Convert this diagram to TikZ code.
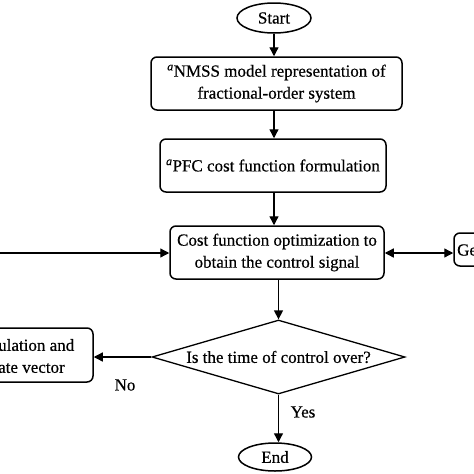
\documentclass[tikz,border=0pt]{standalone}
\usepackage{fontspec}
\setmainfont{Liberation Serif}[FakeBold=0.5]
\usetikzlibrary{arrows.meta,shapes.geometric}
\begin{document}
\begin{tikzpicture}[x=1pt,y=-1pt,
  every node/.style={font=\fontsize{17}{22}\selectfont},
  box/.style={draw,rounded corners=6pt,line width=1.5pt,align=center,inner sep=0pt},
  term/.style={draw,ellipse,line width=1.5pt,inner sep=0pt},
  dec/.style={draw,diamond,aspect=3.42,line width=1.3pt,inner sep=0pt},
  lbl/.style={inner sep=0pt},
  arr/.style={line width=1.3pt,-{Triangle[length=9pt,width=9pt]}},
  darr/.style={line width=1.3pt,{Triangle[length=9pt,width=9pt]}-{Triangle[length=9pt,width=9pt]}}]
\useasboundingbox (0,0) rectangle (474,474);
\node[term,minimum width=74pt,minimum height=30pt] (start) at (274,18) {Start};
\node[box,minimum width=251pt,minimum height=53pt] (b1) at (276.5,83.5)
  {\textsuperscript{\textit{a}}NMSS model representation of\\fractional-order system};
\node[box,minimum width=226pt,minimum height=53pt] (b2) at (273,165.5)
  {\textsuperscript{\textit{a}}PFC cost function formulation};
\node[box,minimum width=214pt,minimum height=53pt] (b3) at (277,252.5)
  {Cost function optimization to\\obtain the control signal};
\node[dec,minimum width=253pt,minimum height=74pt] (d) at (278.5,357) {Is the time of control over?};
\node[box,minimum width=160pt,minimum height=54pt] (lb) at (13,355) {};
\node[lbl,anchor=west,align=left] (lt) at (-2,356) {ulation and\\ate vector};
\node[box,minimum width=40pt,minimum height=33pt] (rb) at (474,249.5) {};
\node[lbl,anchor=west] (rt) at (457,250) {Ge};
\node[term,minimum width=73pt,minimum height=28pt] (end) at (275,457) {End};
\coordinate (lin) at (0,253);
\node[lbl] (no) at (125,385) {No};
\node[lbl] (yes) at (303,412) {Yes};
\draw[arr] (start.south) -- (start.south |- b1.north);
\draw[arr] (b1.south -| start.south) -- (start.south |- b2.north);
\draw[arr] (b2.south -| start.south) -- (start.south |- b3.north);
\draw[arr] (lin) -- (lin -| b3.west);
\draw[darr] (b3.east |- lin) -- (rb.west |- lin);
\draw[arr] (b3.south -| d.north) -- (d.north);
\draw[arr] (d.west) -- (d.west -| lb.east);
\draw[arr] (d.south) -- (d.south |- end.north);
\end{tikzpicture}
\end{document}
